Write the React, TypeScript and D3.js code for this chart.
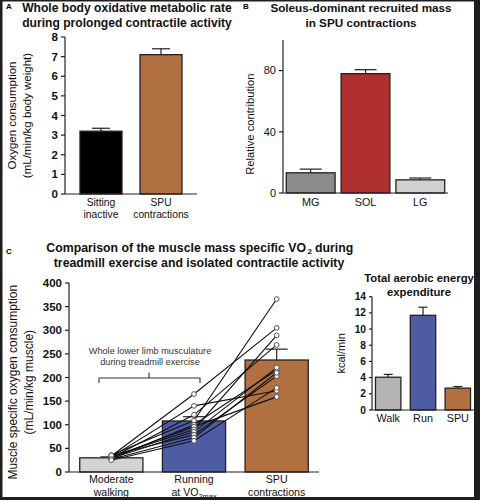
import React from "react";
import * as d3 from "d3";

// Panel A
const aCats = ["Sitting|inactive", "SPU|contractions"];
const aVals = [3.2, 7.1];
const aErr = [3.35, 7.4];
const aTicks = [0, 1, 2, 3, 4, 5, 6, 7, 8];
// Panel B
const bCats = ["MG", "SOL", "LG"];
const bVals = [13.2, 78, 8.6];
const bErr = [15.6, 80.6, 9.8];
const bTicks = [0, 40, 80];
// Panel C
const cCats = ["Moderate|walking", "Running|at VO2max", "SPU|contractions"];
const cVals = [30, 108, 237];
const cErr = [32, 117, 260];
const cTicks = [0, 50, 100, 150, 200, 250, 300, 350, 400];
const subjWalk = [34, 32, 30, 36, 28, 31, 33, 29, 35, 27, 25];
const subjRun = [165, 140, 121, 109, 100, 96, 90, 85, 79, 73, 66];
const subjSpu = [305, 172, 269, 366, 216, 159, 289, 221, 203, 210, 178];
// Panel D
const dCats = ["Walk", "Run", "SPU"];
const dVals = [4.05, 11.7, 2.7];
const dErr = [4.4, 12.7, 2.9];
const dTicks = [0, 2, 4, 6, 8, 10, 12, 14];

const FONT = "'Liberation Sans', Arial, sans-serif";
const BROWN = "#b0703f";
const BLUE = "#4e5ca4";

function band(domain: string[], r: [number, number], inner: number, outer: number) {
  return d3.scaleBand<string>().domain(domain).range(r).paddingInner(inner).paddingOuter(outer);
}

function YAxis({ y, x, ticks, bold, size, tickLen = 4 }: any) {
  const [r0, r1] = y.range();
  return (
    <g>
      <line x1={x} x2={x} y1={r0} y2={r1} stroke="#222" strokeWidth={1.2} />
      {ticks.map((t: number) => (
        <g key={t}>
          <line x1={x - tickLen} x2={x} y1={y(t)} y2={y(t)} stroke="#222" strokeWidth={1.2} />
          <text x={x - tickLen - 3} y={y(t)} dy="0.35em" textAnchor="end" fontSize={size}
            fontWeight={bold ? "bold" : "normal"} fill="#111">{t}</text>
        </g>
      ))}
    </g>
  );
}

function Bars({ x, y, cats, vals, errs, colors, cap }: any) {
  return (
    <g>
      {cats.map((c: string, i: number) => {
        const x0 = x(c);
        const w = x.bandwidth();
        const cx = x0 + w / 2;
        return (
          <g key={c}>
            <line x1={cx} x2={cx} y1={y(vals[i])} y2={y(errs[i])} stroke="#222" strokeWidth={1.2} />
            <line x1={cx - cap / 2} x2={cx + cap / 2} y1={y(errs[i])} y2={y(errs[i])} stroke="#222" strokeWidth={1.2} />
            <rect x={x0} y={y(vals[i])} width={w} height={y(0) - y(vals[i])} fill={colors[i]} stroke="#222" strokeWidth={1.3} />
          </g>
        );
      })}
    </g>
  );
}

function XLabels({ x, cats, yPos, size, lh }: any) {
  return (
    <g>
      {cats.map((c: string) => {
        const lines = c.split("|");
        const cx = x(c) + x.bandwidth() / 2;
        return (
          <text key={c} x={cx} y={yPos} textAnchor="middle" fontSize={size} fill="#111">
            {lines.map((l, i) => {
              if (l.includes("VO2max")) {
                return (
                  <tspan key={i} x={cx} dy={i === 0 ? 0 : lh}>
                    at VO<tspan fontSize={size * 0.7} dy={3}>2max</tspan>
                  </tspan>
                );
              }
              return <tspan key={i} x={cx} dy={i === 0 ? 0 : lh}>{l}</tspan>;
            })}
          </text>
        );
      })}
    </g>
  );
}

export default function App() {
  // A
  const ay = d3.scaleLinear().domain([0, 8]).range([194, 37]);
  const ax = band(aCats, [65, 197], 0.3, 0.25);
  // B
  const by = d3.scaleLinear().domain([0, 100]).range([193, 40]);
  const bx = band(bCats, [283, 448], 0.11, 0.06);
  // C
  const cy = d3.scaleLinear().domain([0, 400]).range([472, 283]);
  const cx = band(cCats, [69, 319], 0.236, 0.13);
  // D
  const dy = d3.scaleLinear().domain([0, 14]).range([410, 296.7]);
  const dx = band(dCats, [372, 474], 0.27, 0.1);

  const cc = (c: string) => (cx(c) as number) + cx.bandwidth() / 2;
  const subjects = subjWalk.map((w, i) => [w, subjRun[i], subjSpu[i]]);

  return (
    <svg width={480} height={500} style={{ position: "absolute", left: 0, top: 0, background: "#fff" }}
      fontFamily={FONT}>
      <rect width={480} height={500} fill="#fff" />

      {/* Panel A */}
      <text x={6} y={9} fontSize={8} fontWeight="bold">A</text>
      <text x={127} y={12} textAnchor="middle" fontSize={12.1} fontWeight="bold" fill="#111">
        <tspan x={127}>Whole body oxidative metabolic rate</tspan>
        <tspan x={127} dy={14.5}>during prolonged contractile activity</tspan>
      </text>
      <text transform={`translate(16,${ay(4)}) rotate(-90)`} textAnchor="middle" fontSize={11.5} fill="#111">
        Oxygen consumption
      </text>
      <text transform={`translate(31,${ay(4)}) rotate(-90)`} textAnchor="middle" fontSize={11.5} fill="#111">
        (mL/min/kg body weight)
      </text>
      <Bars x={ax} y={ay} cats={aCats} vals={aVals} errs={aErr} colors={["#000", BROWN]} cap={18} />
      <YAxis y={ay} x={65} ticks={aTicks} bold size={11.5} />
      <line x1={65} x2={197} y1={ay(0)} y2={ay(0)} stroke="#222" strokeWidth={1.2} />
      <XLabels x={ax} cats={aCats} yPos={206} size={10.3} lh={11.5} />

      {/* Panel B */}
      <text x={243} y={9} fontSize={8} fontWeight="bold">B</text>
      <text x={361} y={12} textAnchor="middle" fontSize={11.7} fontWeight="bold" fill="#111">
        <tspan x={361}>Soleus-dominant recruited mass</tspan>
        <tspan x={361} dy={14.5}>in SPU contractions</tspan>
      </text>
      <text transform={`translate(254,${by(45)}) rotate(-90)`} textAnchor="middle" fontSize={11.2} fill="#111">
        Relative contribution
      </text>
      <Bars x={bx} y={by} cats={bCats} vals={bVals} errs={bErr} colors={["#8c8c8c", "#b0302f", "#d0d0d0"]} cap={22} />
      <YAxis y={by} x={283} ticks={bTicks} bold={false} size={11} />
      <line x1={283} x2={448} y1={by(0)} y2={by(0)} stroke="#222" strokeWidth={1.2} />
      <XLabels x={bx} cats={bCats} yPos={206} size={10.8} lh={12} />

      {/* Panel C */}
      <text x={6} y={254} fontSize={8} fontWeight="bold">C</text>
      <g fontSize={12.3} fontWeight="bold" fill="#111">
        <text x={306} y={252} textAnchor="end">Comparison of the muscle mass specific VO</text>
        <text x={307.5} y={253.5} fontSize={8}>2</text>
        <text x={315} y={252}>during</text>
        <text x={199} y={267} textAnchor="middle">treadmill exercise and isolated contractile activity</text>
      </g>
      <text transform={`translate(17,${cy(190)}) rotate(-90)`} textAnchor="middle" fontSize={12} fill="#111">
        Muscle specific oxygen consumption
      </text>
      <text transform={`translate(33,${cy(190)}) rotate(-90)`} textAnchor="middle" fontSize={12} fill="#111">
        (mL/min/kg muscle)
      </text>
      <Bars x={cx} y={cy} cats={cCats} vals={cVals} errs={cErr}
        colors={["#d3d3d3", BLUE, BROWN]} cap={22} />
      <YAxis y={cy} x={69} ticks={cTicks} bold size={11.5} />
      <line x1={69} x2={319} y1={cy(0)} y2={cy(0)} stroke="#222" strokeWidth={1.2} />
      {subjects.map((s, i) => (
        <polyline key={i} fill="none" stroke="#111" strokeWidth={1.1}
          points={s.map((v, j) => `${cc(cCats[j])},${cy(v)}`).join(" ")} />
      ))}
      {subjects.map((s, i) =>
        s.map((v, j) => (
          <circle key={`${i}-${j}`} cx={cc(cCats[j])} cy={cy(v)} r={2.4} fill="#fff" stroke="#555" strokeWidth={1} />
        ))
      )}
      <XLabels x={cx} cats={cCats} yPos={483} size={10.6} lh={13} />
      {/* bracket */}
      <text x={150} y={354} textAnchor="middle" fontSize={9.2} fill="#333">
        <tspan x={150}>Whole lower limb musculature</tspan>
        <tspan x={150} dy={11}>during treadmill exercise</tspan>
      </text>
      <path d="M99,383 L99,378 L149,378 L149,372.5 M149,378 L200,378 L200,383" fill="none" stroke="#333" strokeWidth={1.1} />

      {/* Panel D */}
      <text x={419} y={282} textAnchor="middle" fontSize={11.3} fontWeight="bold" fill="#111">
        <tspan x={419}>Total aerobic energy</tspan>
        <tspan x={419} dy={14}>expenditure</tspan>
      </text>
      <text transform={`translate(345,${dy(7)}) rotate(-90)`} textAnchor="middle" fontSize={11} fill="#111">
        kcal/min
      </text>
      <Bars x={dx} y={dy} cats={dCats} vals={dVals} errs={dErr} colors={["#b4b4b4", BLUE, BROWN]} cap={9} />
      <YAxis y={dy} x={372} ticks={dTicks} bold size={10.2} tickLen={3} />
      <line x1={372} x2={474} y1={dy(0)} y2={dy(0)} stroke="#222" strokeWidth={1.2} />
      <XLabels x={dx} cats={dCats} yPos={422} size={10.8} lh={12} />

      {/* frame */}
      <rect x={0} y={0} width={2.5} height={500} fill="#1e1e1e" />
      <rect x={0} y={0} width={480} height={1.5} fill="#1e1e1e" />
      <rect x={474} y={0} width={6} height={500} fill="#1e1e1e" />
      <rect x={0} y={497} width={480} height={3} fill="#1e1e1e" />
    </svg>
  );
}
